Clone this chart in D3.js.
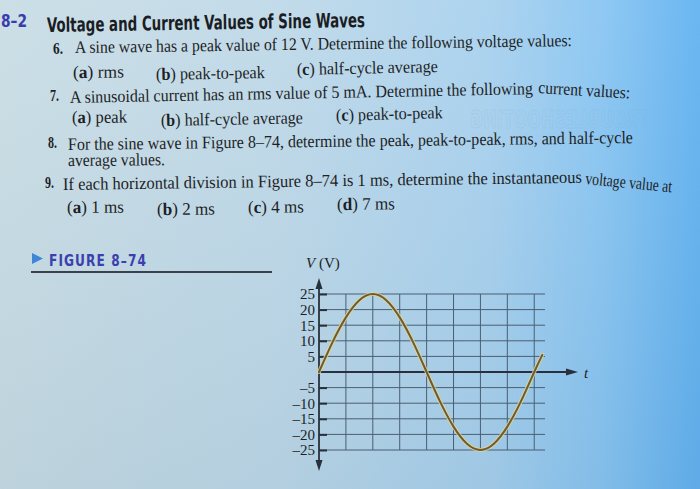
<!DOCTYPE html>
<html>
<head>
<meta charset="utf-8">
<script src="https://cdn.jsdelivr.net/npm/d3@7"></script>
<style>
  html, body { margin: 0; padding: 0; background: #c4dbe6; }
  svg { display: block; }
  .serif { font-family: "Liberation Serif", "DejaVu Serif", serif; fill: #1d1f26; }
  .cond { font-family: "DejaVu Sans Condensed", "DejaVu Sans", sans-serif; font-stretch: condensed; }
</style>
</head>
<body>
<svg id="page" width="700" height="489"></svg>
<script>
(function () {
  "use strict";

  // Figure 8-74: one cycle of the sine wave, time in horizontal divisions, volts
  const T_DIV = [0, 0.5, 1, 1.5, 2, 2.5, 3, 3.5, 4, 4.5, 5, 5.5, 6, 6.5, 7, 7.5, 8, 8.3];
  const VOLTS = [0, 9.5, 17.5, 23, 25, 23, 17.5, 9.5, 0, -9.5, -17.5, -23, -25, -23, -17.5, -9.5, 0, 5.5];
  const Y_TICKS = [25, 20, 15, 10, 5, -5, -10, -15, -20, -25];
  const X_DIVS = [1, 2, 3, 4, 5, 6, 7, 8];
  const X_MAX = 8.4;

  const W = 700;
  const H = 489;
  const BODY = 17.5;
  const svg = d3.select("#page").attr("viewBox", `0 0 ${W} ${H}`);

  // photographed page background
  const defs = svg.append("defs");
  const bg = defs.append("linearGradient").attr("id", "bg").attr("x1", 0).attr("x2", 1).attr("y1", 0).attr("y2", 0);
  [[0, "#c8dce4"], [0.4, "#bdd8e8"], [0.7, "#a6d0ee"], [0.86, "#86c4f2"], [1, "#5eb0f0"]].forEach(([o, c]) =>
    bg.append("stop").attr("offset", o).attr("stop-color", c));
  const shade = defs.append("linearGradient").attr("id", "shade").attr("x1", 0).attr("x2", 0).attr("y1", 0).attr("y2", 1);
  shade.append("stop").attr("offset", 0).attr("stop-color", "#ffffff").attr("stop-opacity", 0.08);
  shade.append("stop").attr("offset", 1).attr("stop-color", "#5a7a90").attr("stop-opacity", 0.1);

  svg.append("rect").attr("width", W).attr("height", H).attr("fill", "url(#bg)");
  svg.append("rect").attr("width", W).attr("height", H).attr("fill", "url(#shade)");

  // faint show-through from the back of the page
  svg.append("text")
    .attr("transform", "translate(650,128) scale(-1,1)")
    .attr("class", "cond")
    .attr("font-size", 24).attr("font-weight", 700)
    .attr("fill", "none").attr("stroke", "#7fa9c6").attr("stroke-opacity", 0.18)
    .attr("textLength", 180).attr("lengthAdjust", "spacingAndGlyphs")
    .text("TROUBLESHOOTING");

  // one printed line: string, x, baseline, width, angle
  function textLine(str, x, y, w, angle, opts) {
    opts = opts || {};
    const t = svg.append("text")
      .attr("class", opts.cls || "serif")
      .attr("x", x).attr("y", y)
      .attr("font-size", opts.size || BODY)
      .attr("transform", `rotate(${angle || 0},${x},${y})`);
    if (w) t.attr("textLength", w).attr("lengthAdjust", "spacingAndGlyphs");
    if (opts.weight) t.attr("font-weight", opts.weight);
    if (opts.fill) t.attr("fill", opts.fill);
    if (opts.spacing) t.attr("letter-spacing", opts.spacing);
    if (opts.lead) {
      t.append("tspan").text("(");
      t.append("tspan").attr("font-weight", 700).text(opts.lead);
      t.append("tspan").text(")" + str);
    } else {
      t.text(str);
    }
    return t;
  }

  textLine("8–2", 1, 27, 26, 0, { cls: "cond", size: 18, weight: 700, fill: "#3a3cae" });
  textLine("Voltage and Current Values of Sine Waves", 47, 32, 318, -0.9,
    { cls: "cond", size: 20, weight: 700, fill: "#1b1d24" });

  textLine("6.", 53, 54, 10, 0, { weight: 700 });
  textLine("A sine wave has a peak value of 12 V. Determine the following voltage values:", 75, 53, 497, -0.8);
  textLine(" rms", 73, 78, 51, -0.6, { lead: "a" });
  textLine(" peak-to-peak", 156, 80, 109, -1, { lead: "b" });
  textLine(" half-cycle average", 297, 75, 141, -1.2, { lead: "c" });

  textLine("7.", 50, 101, 9, 0, { weight: 700 });
  textLine("A sinusoidal current has an rms value of 5 mA. Determine the following", 70, 103, 463, -1.1);
  textLine("current values:", 538, 93, 92, 3.5);
  textLine(" peak", 72, 123, 55, -0.5, { lead: "a" });
  textLine(" half-cycle average", 161, 126, 142, -1.1, { lead: "b" });
  textLine(" peak-to-peak", 336, 121, 107, -1.5, { lead: "c" });

  textLine("8.", 48, 148, 9, 0, { weight: 700 });
  textLine("For the sine wave in Figure 8–74, determine the peak, peak-to-peak, rms, and half-cycle", 68, 150, 565, -0.7);
  textLine("average values.", 68, 166, 97, -0.5);

  textLine("9.", 45, 188, 9, 0, { weight: 700 });
  textLine("If each horizontal division in Figure 8–74 is 1 ms, determine the instantaneous", 63, 190, 519, -0.8);
  textLine("voltage value at", 585, 184, 87, 5.5);
  textLine(" 1 ms", 67, 213, 57, -0.3, { lead: "a" });
  textLine(" 2 ms", 157, 215, 58, -0.5, { lead: "b" });
  textLine(" 4 ms", 248, 213, 56, -0.6, { lead: "c" });
  textLine(" 7 ms", 337, 210, 58, -0.6, { lead: "d" });

  // figure caption
  svg.append("path").attr("d", "M32,253 L43,258.5 L32,264 Z").attr("fill", "#3f86d8");
  textLine("FIGURE 8–74", 49, 266, 98, 0,
    { cls: "cond", size: 15, weight: 600, fill: "#3a40ae", spacing: 1.2 });
  svg.append("rect").attr("x", 31).attr("y", 271).attr("width", 241).attr("height", 2).attr("fill", "#3b414a");

  // chart
  const x = d3.scaleLinear().domain([0, X_MAX]).range([319, 545]);
  const y = d3.scaleLinear().domain([-25, 25]).range([450, 294]);
  const ink = "#27303c";
  const gridInk = "#4b5f72";

  const grid = svg.append("g").attr("stroke", gridInk).attr("stroke-width", 1);
  grid.selectAll("line.h").data(Y_TICKS).enter().append("line")
    .attr("class", "h")
    .attr("x1", x(0)).attr("x2", x(X_MAX))
    .attr("y1", (d) => y(d)).attr("y2", (d) => y(d));
  grid.selectAll("line.v").data(X_DIVS).enter().append("line")
    .attr("class", "v")
    .attr("x1", (d) => x(d)).attr("x2", (d) => x(d))
    .attr("y1", y(25)).attr("y2", y(-25));

  const yAxis = d3.axisLeft(y)
    .tickValues(Y_TICKS)
    .tickSize(-8)
    .tickPadding(4)
    .tickFormat((d) => (d < 0 ? "–" + Math.abs(d) : String(d)));
  const ya = svg.append("g").attr("transform", `translate(${x(0)},0)`).call(yAxis);
  ya.select(".domain").remove();
  ya.selectAll(".tick line").attr("stroke", ink).attr("stroke-width", 2);
  ya.selectAll(".tick text")
    .attr("fill", "#1d1f26")
    .attr("font-family", '"Liberation Serif", "DejaVu Serif", serif')
    .attr("font-size", 15);

  // axes with arrows
  const axes = svg.append("g").attr("stroke", ink).attr("stroke-width", 1.8);
  axes.append("line").attr("x1", x(0)).attr("x2", x(0)).attr("y1", 284).attr("y2", 465);
  axes.append("line").attr("x1", x(0)).attr("x2", 570).attr("y1", y(0)).attr("y2", y(0));
  svg.append("path").attr("fill", ink)
    .attr("d", `M${x(0)},278 L${x(0) - 3.5},289 L${x(0) + 3.5},289 Z`);
  svg.append("path").attr("fill", ink)
    .attr("d", `M${x(0)},471 L${x(0) - 3.5},460 L${x(0) + 3.5},460 Z`);
  svg.append("path").attr("fill", ink)
    .attr("d", `M578,${y(0)} L566,${y(0) - 3.5} L566,${y(0) + 3.5} Z`);

  const axisLabel = svg.append("text").attr("class", "serif").attr("x", 306).attr("y", 268).attr("font-size", 15);
  axisLabel.append("tspan").attr("font-style", "italic").text("V");
  axisLabel.append("tspan").text(" (V)");
  svg.append("text").attr("class", "serif").attr("x", 584).attr("y", 378)
    .attr("font-size", 15).attr("font-style", "italic").text("t");

  // the wave
  const pts = T_DIV.map((t, i) => ({ t: t, v: VOLTS[i] }));
  const wave = d3.line().x((d) => x(d.t)).y((d) => y(d.v)).curve(d3.curveNatural);
  svg.append("path").datum(pts).attr("d", wave)
    .attr("fill", "none").attr("stroke", "#e3d68e").attr("stroke-opacity", 0.8)
    .attr("stroke-width", 4).attr("stroke-linecap", "round");
  svg.append("path").datum(pts).attr("d", wave)
    .attr("fill", "none").attr("stroke", "#6f5b32")
    .attr("stroke-width", 2).attr("stroke-linecap", "round");
})();
</script>
</body>
</html>
